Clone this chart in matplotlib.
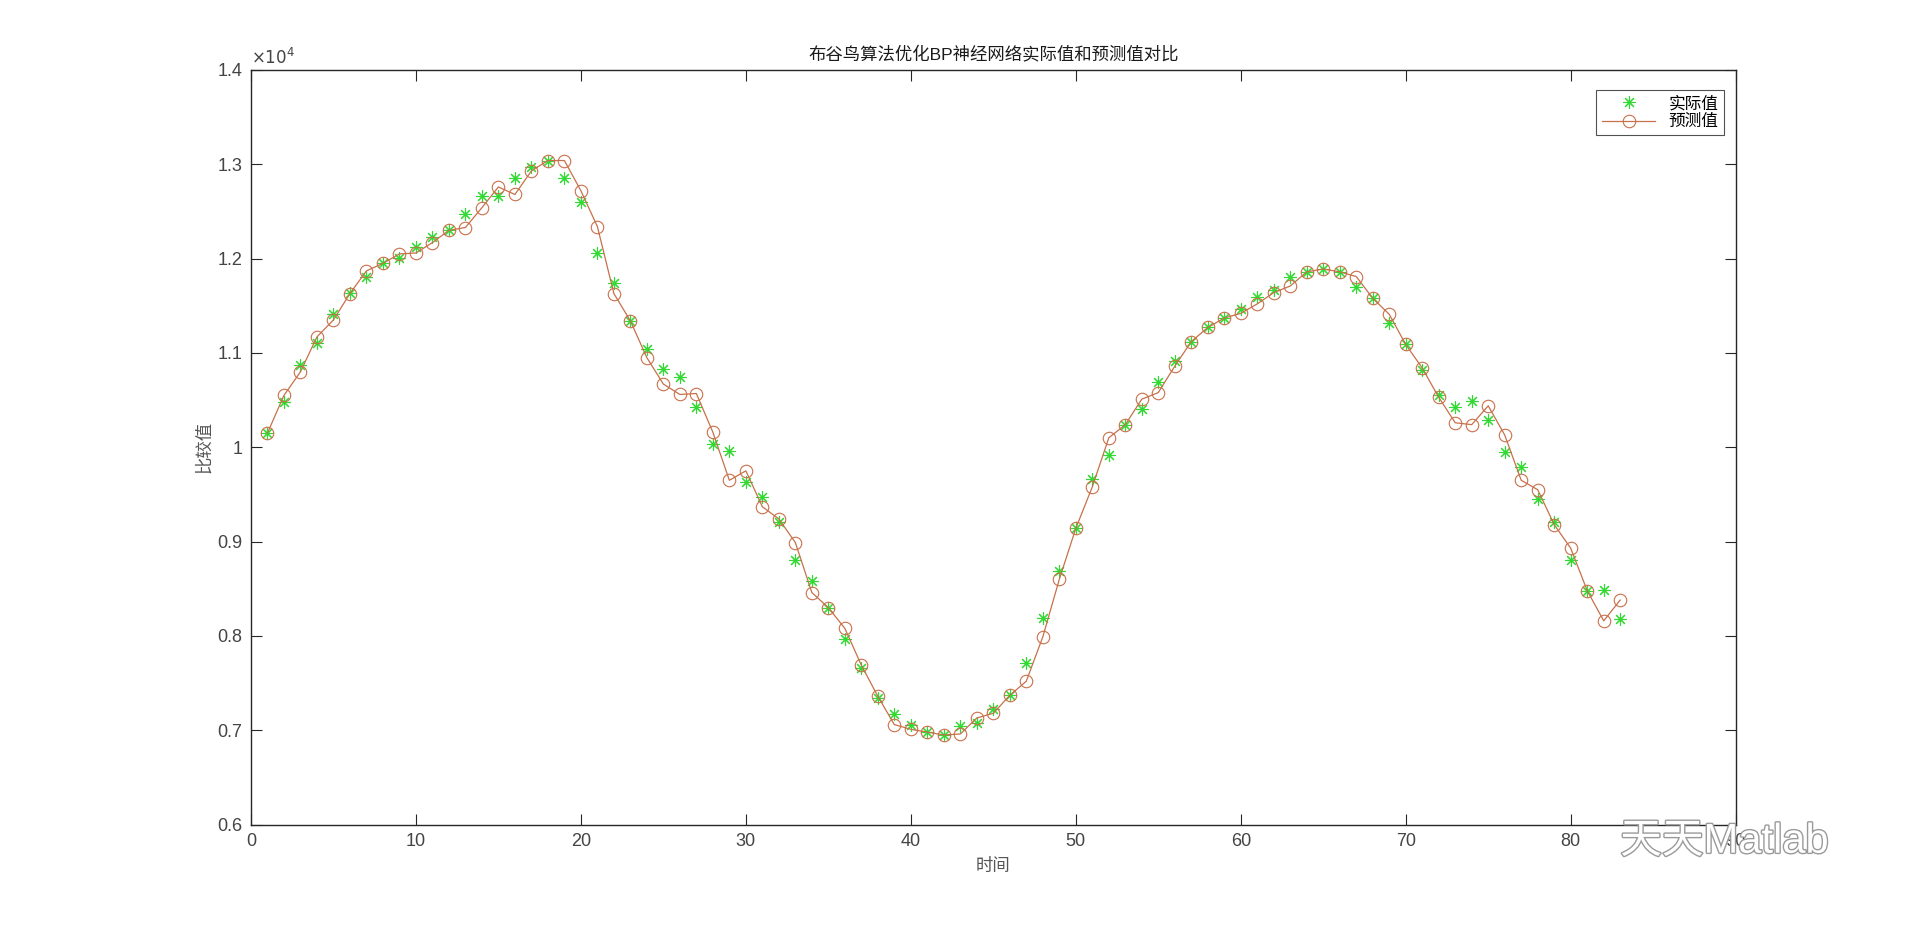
import numpy as np
import matplotlib
matplotlib.use('Agg')
import matplotlib.pyplot as plt
import matplotlib.patheffects as pe
from matplotlib.ticker import FuncFormatter

plt.rcParams['font.family'] = ['Liberation Sans', 'Noto Sans CJK SC', 'DejaVu Sans']

# 数据 (x1e4)
t = np.arange(1, 84)
actual = [1.015, 1.048, 1.087, 1.111, 1.141, 1.164, 1.181, 1.195, 1.201, 1.212,
          1.223, 1.230, 1.247, 1.266, 1.266, 1.286, 1.297, 1.304, 1.285, 1.260,
          1.206, 1.174, 1.134, 1.104, 1.083, 1.074, 1.043, 1.003, 0.996, 0.963,
          0.947, 0.921, 0.881, 0.858, 0.830, 0.797, 0.766, 0.734, 0.717, 0.706,
          0.698, 0.695, 0.704, 0.708, 0.723, 0.737, 0.771, 0.819, 0.869, 0.914,
          0.966, 0.992, 1.024, 1.041, 1.069, 1.092, 1.112, 1.127, 1.137, 1.147,
          1.159, 1.167, 1.180, 1.186, 1.189, 1.186, 1.170, 1.158, 1.132, 1.109,
          1.082, 1.055, 1.043, 1.049, 1.029, 0.995, 0.979, 0.945, 0.921, 0.880,
          0.848, 0.849, 0.818]
predicted = [1.015, 1.055, 1.080, 1.117, 1.135, 1.163, 1.187, 1.195, 1.205, 1.206,
             1.217, 1.230, 1.233, 1.254, 1.276, 1.268, 1.293, 1.304, 1.304, 1.272,
             1.234, 1.163, 1.134, 1.095, 1.067, 1.056, 1.057, 1.016, 0.965, 0.975,
             0.937, 0.924, 0.899, 0.846, 0.830, 0.808, 0.769, 0.736, 0.706, 0.701,
             0.698, 0.695, 0.696, 0.713, 0.718, 0.737, 0.752, 0.799, 0.860, 0.914,
             0.958, 1.010, 1.024, 1.051, 1.058, 1.086, 1.112, 1.127, 1.137, 1.142,
             1.152, 1.164, 1.171, 1.186, 1.189, 1.186, 1.181, 1.158, 1.141, 1.109,
             1.084, 1.053, 1.026, 1.024, 1.044, 1.013, 0.965, 0.955, 0.918, 0.893,
             0.848, 0.816, 0.838]
actual = np.array(actual) * 1e4
predicted = np.array(predicted) * 1e4

xticks = np.arange(0, 91, 10)
yticks = np.arange(6000, 14001, 1000)

fig = plt.figure(figsize=(19.2, 9.27), dpi=100)
ax = fig.add_axes([0.1307, 0.1105, 0.7733, 0.814])

ax.plot(t, actual, linestyle='none', marker=(8, 2, 0), markersize=9,
        markeredgewidth=0.8, color='#33d933', label='实际值')
ax.plot(t, predicted, '-', marker='o', markersize=9, markerfacecolor='none',
        markeredgewidth=0.8, linewidth=0.9, color='#c8704a', label='预测值')

ax.set_xlim(0, 90)
ax.set_ylim(6000, 14000)
ax.set_xticks(xticks)
ax.set_yticks(yticks)
ax.yaxis.set_major_formatter(FuncFormatter(lambda v, p: f'{v / 1e4:g}'))

ax.tick_params(direction='in', length=8, width=0.8, colors='#262626',
               labelsize=13, top=True, right=True, pad=6)
ax.tick_params(axis='x', labelcolor='#444444')
ax.tick_params(axis='y', labelcolor='#444444')
for s in ax.spines.values():
    s.set_color('#262626')
    s.set_linewidth(1.0)

ax.text(0.0, 1.004, r'$\times10^4$', transform=ax.transAxes, fontsize=12,
        color='#444444', ha='left', va='bottom')

ax.set_title('布谷鸟算法优化BP神经网络实际值和预测值对比', fontsize=12.5,
             color='#1a1a1a', pad=8)
ax.set_xlabel('时间', fontsize=12.5, color='#555555', labelpad=6)
ax.set_ylabel('比较值', fontsize=12.5, color='#555555', labelpad=4)

leg = ax.legend(loc='upper right', fontsize=12, frameon=True, fancybox=False,
                borderpad=0.35, handlelength=3.2, labelspacing=0.2,
                bbox_to_anchor=(0.998, 0.985))
leg.get_frame().set_edgecolor('#262626')
leg.get_frame().set_linewidth(0.8)

# 水印
fig.text(0.898, 0.092, '天天Matlab', fontsize=30, color='white', ha='center',
         va='center', path_effects=[pe.withStroke(linewidth=2, foreground='#9a9a9a')])

fig.savefig('out.png', dpi=100)
